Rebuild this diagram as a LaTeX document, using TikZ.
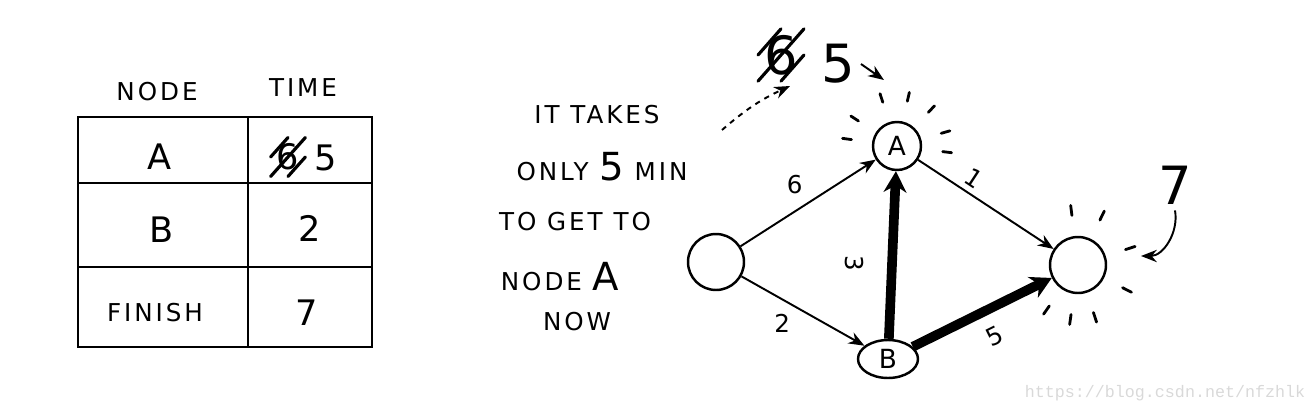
\documentclass[tikz,border=0pt]{standalone}
\usepackage{fontspec}
\newfontfamily\handfont[LetterSpace=12]{DejaVu Sans}
\newfontfamily\webfont{Liberation Mono}
\usetikzlibrary{arrows.meta,calc,shapes.geometric}
\tikzset{Hand/.style={font=\handfont\fontsize{14}{16}\selectfont},
  Big/.style={font=\handfont\fontsize{20}{22}\selectfont},
  Huge/.style={font=\handfont\fontsize{30}{32}\selectfont},
  Vtx/.style={circle,draw,line width=1.4pt,inner sep=0pt,font=\handfont\fontsize{15}{17}\selectfont},
  Thin/.style={-{Stealth[length=9pt,width=7pt]},line width=1.1pt},
  Heavy/.style={-{Stealth[length=12pt,width=13pt]},line width=5.5pt},
  Ray/.style={line width=1.6pt,line cap=round},
  Scribble/.style={line width=1.8pt,line cap=round}}
\begin{document}
\begin{tikzpicture}[x=0.02cm,y=-0.02cm]
    \useasboundingbox (0,0) rectangle (1316,416);
    \begin{scope}[line width=1.7pt]
      \draw (78,117) rectangle (372,347);
      \draw (248,117) -- (248,347) (78,183) -- (372,183) (78,267) -- (372,267);
    \end{scope}
    \node[Hand] (hnode) at (157,92) {NODE};
    \node[Hand] (htime) at (303,88) {TIME};
    \node[Big] (rowa) at (160,157) {A};
    \node[Big] (olda) at (288,157) {6};
    \draw[Scribble] (olda.south west) -- (olda.north east) (olda.west) -- (olda.north) (olda.south) -- (olda.east);
    \node[Big] (newa) at (326,158) {5};
    \node[Big] (rowb) at (162,230) {B};
    \node[Big] (timeb) at (310,228) {2};
    \node[Hand] (rowf) at (155,313) {FINISH};
    \node[Big] (timef) at (307,313) {7};
    \node[Hand] (t1) at (597,115) {IT TAKES};
    \node[Hand] (t2) at (602,167) {ONLY {\fontsize{22}{24}\selectfont 5} MIN};
    \node[Hand] (t3) at (575,222) {TO GET TO};
    \node[Hand] (t4) at (560,277) {NODE {\fontsize{22}{24}\selectfont A}};
    \node[Hand] (t5) at (577,322) {NOW};
    \node[Vtx,minimum size=1.12cm] (s) at (716,262) {};
    \node[Vtx,minimum size=0.96cm] (A) at (897,146) {A};
    \node[Vtx,ellipse,minimum width=1.2cm,minimum height=0.76cm] (B) at (888,359) {B};
    \node[Vtx,minimum size=1.12cm] (F) at (1078,265) {};
    \draw[Thin] (s) -- (A) node[Hand,pos=.4,above=6pt] {6};
    \draw[Thin] (s) -- (B) node[Hand,pos=.45,below left] {2};
    \draw[Thin] (A) -- (F) node[Hand,pos=.35,above,sloped] {1};
    \draw[Heavy] (B) -- (A) node[Hand,pos=.45,rotate=-90,below=10pt] {3};
    \draw[Heavy] (B) -- (F) node[Hand,pos=.5,below=4pt,sloped] {5};
    \foreach \a in {147,108,77,47,16,-7,172}
      \draw[Ray] ($(A.center)+(\a:0.92cm)$) -- ($(A.center)+(\a:1.1cm)$);
    \foreach \a in {97,64,18,-27,-72,-98,-125}
      \draw[Ray] ($(F.center)+(\a:1.0cm)$) -- ($(F.center)+(\a:1.2cm)$);
    \node[Huge] (oldtop) at (781,55) {6};
    \draw[Scribble] (oldtop.south west) -- (oldtop.north east) (oldtop.west) -- (oldtop.north) (oldtop.south) -- (oldtop.east);
    \node[Huge] (newtop) at (838,64) {5};
    \coordinate (note) at (722,130);
    \coordinate (noteend) at (790,86);
    \draw[Thin,dashed] (note) to[bend left=8] (noteend);
    \coordinate (hita) at (884,80);
    \draw[Thin] (newtop.east) -- (hita);
    \node[Huge] (seven) at (1175,185) {7};
    \coordinate (hitf) at (1141,256);
    \draw[Thin] (seven.south) to[out=-80,in=0] (hitf);
    \node[font=\webfont\fontsize{9.5}{11}\selectfont,text=black!15] (mark) at (1165,393) {https://blog.csdn.net/nfzhlk};
\end{tikzpicture}
\end{document}
